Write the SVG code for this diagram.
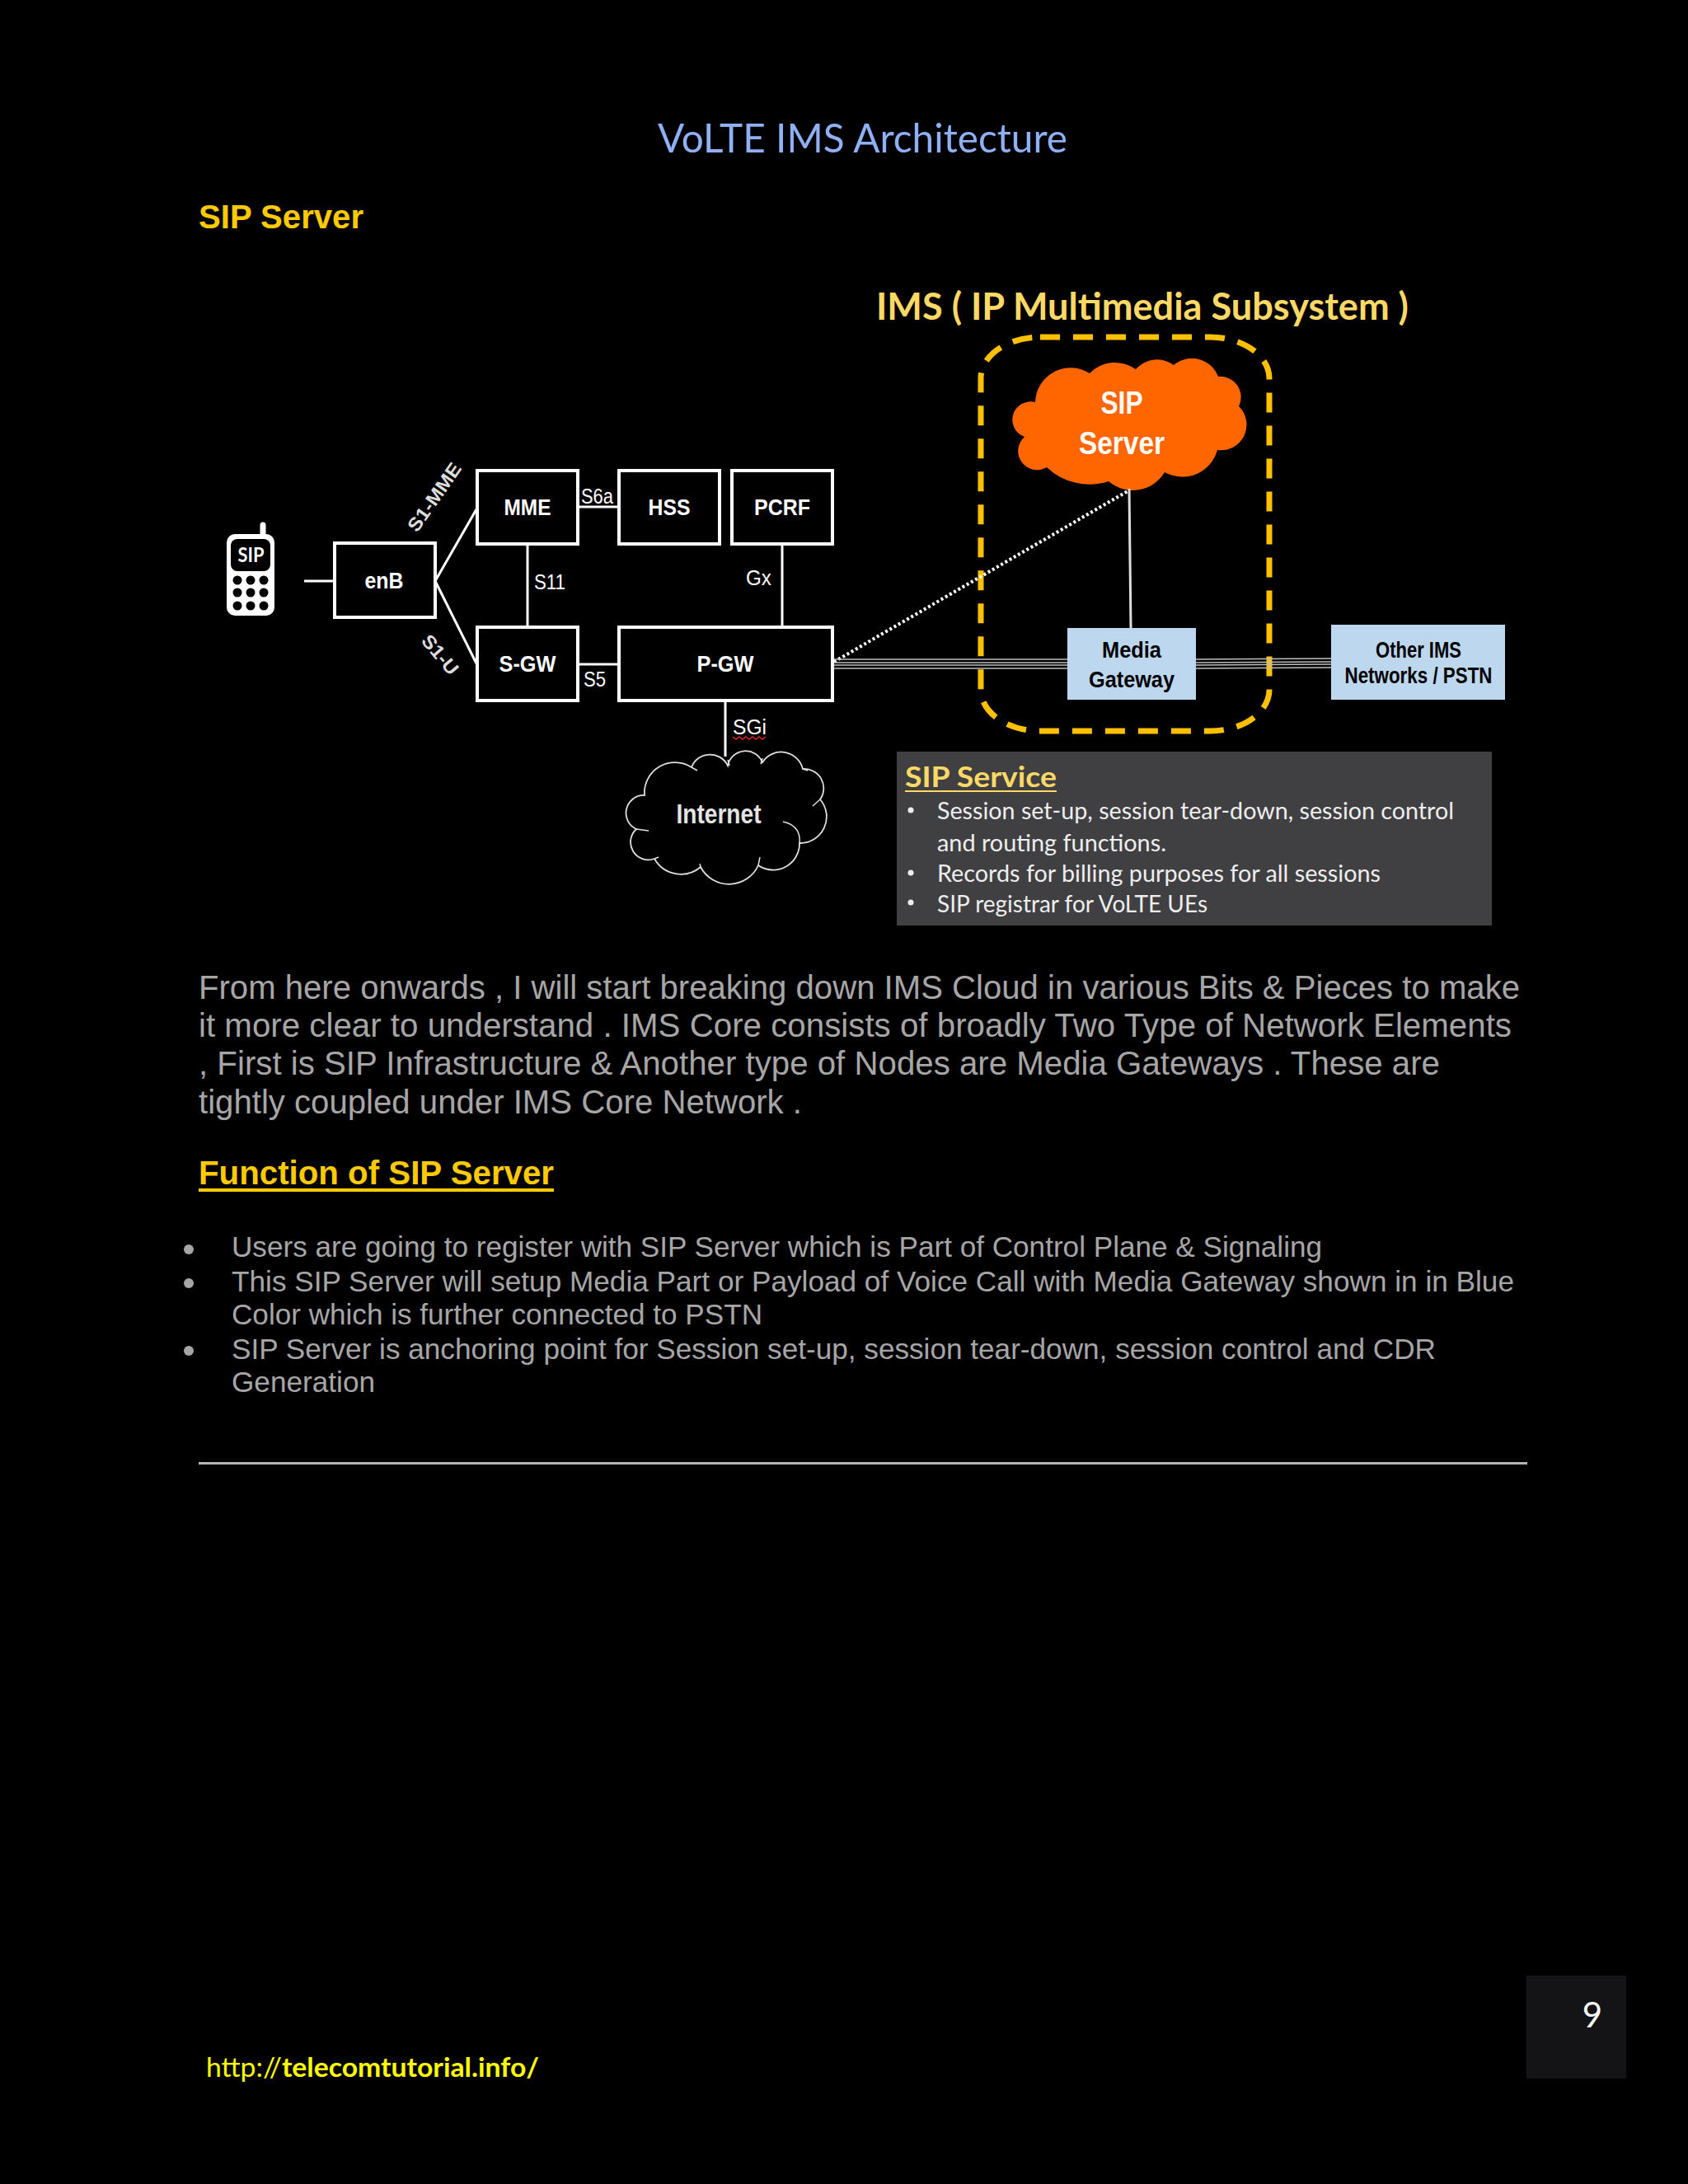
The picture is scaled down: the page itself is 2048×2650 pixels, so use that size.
<svg xmlns="http://www.w3.org/2000/svg" width="2048" height="2650" viewBox="0 0 2048 2650">
<style>
text{font-family:"Liberation Sans",Arial,sans-serif}
.l{font-family:Lato,"Noto Sans",sans-serif}
.box{fill:#000;stroke:#fff;stroke-width:4}
.n{font-size:28px;font-weight:700;fill:#fff;text-anchor:middle}
.i{font-size:25px;fill:#fff}
.c{stroke:#fff;stroke-width:3;fill:none}
.t{stroke:#bdbdbd;stroke-width:1.5;fill:none}
.body{font-size:40px;fill:#a6a6a6}
.li{font-size:35px;fill:#a6a6a6}
.s{font-size:29px;fill:#eee}
.d{font-size:27px;font-weight:700;fill:#000;text-anchor:middle}
.sq{stroke:#d22;stroke-width:1.5;fill:none}
</style>
<rect width="2048" height="2650" fill="#000"/>
<text class="l" x="798" y="185" font-size="49" fill="#8fb0f5" textLength="497" lengthAdjust="spacingAndGlyphs">VoLTE IMS Architecture</text>
<text x="241" y="277" font-size="40" font-weight="700" fill="#ffcb00" textLength="200" lengthAdjust="spacingAndGlyphs">SIP Server</text>
<text class="l" x="1063" y="388" font-size="46" font-weight="700" fill="#ffd966" textLength="646" lengthAdjust="spacingAndGlyphs">IMS ( IP Multimedia Subsystem )</text>

<g id="IMS"><rect x="1190" y="409" width="350" height="478" rx="72" ry="50" fill="none" stroke="#ffc000" stroke-width="7" stroke-dasharray="24 16"/></g>

<g id="SIP-Server">
<path d="M1256 488A43 43 0 0 1 1322 453A43 43 0 0 1 1378 448A34 34 0 0 1 1424 443A34 34 0 0 1 1478 457A25 25 0 0 1 1503 493A31 31 0 0 1 1477 546A44 44 0 0 1 1413 573A45 45 0 0 1 1345 584A75 75 0 0 1 1270 567A23 23 0 0 1 1243 530A22 22 0 0 1 1256 488Z" fill="#ff6600"/>
<text x="1361" y="502" font-size="38" font-weight="700" fill="#fff" text-anchor="middle" textLength="51" lengthAdjust="spacingAndGlyphs">SIP</text>
<text x="1361" y="551" font-size="38" font-weight="700" fill="#fff" text-anchor="middle" textLength="104" lengthAdjust="spacingAndGlyphs">Server</text>
</g>

<g id="connectors">
<path class="c" d="M369 705H404M528 705L578 618M528 705L578 805M701 615H750M640 660V760M949 660V760M701 806H750M880 850V918"/>
<path d="M1012 803L1368 596" stroke="#fff" stroke-width="4" stroke-dasharray="3 3" fill="none"/>
<path d="M1370 593L1372 762" stroke="#ddd" stroke-width="3" fill="none"/>
<path class="t" d="M1011 800H1295M1011 804H1295M1011 807H1295M1011 811H1295M1451 800L1615 799M1451 804L1615 803M1451 807L1615 806M1451 811L1615 810"/>
<path class="sq" d="M443 718l4 3l4-3l4 3l4-3l4 3l4-3l4 3l4-3l4 3l4-3l4 3l4-3"/>
<path class="sq" d="M889 894l4 3l4-3l4 3l4-3l4 3l4-3l4 3l4-3l4 3l4-3"/>
</g>

<g id="phone">
<rect x="275" y="648" width="58" height="99" rx="10" fill="#fff"/>
<path d="M319 637V650" stroke="#fff" stroke-width="7" stroke-linecap="round"/>
<rect x="280" y="654" width="48" height="39" rx="8" fill="#000"/>
<text class="l" x="304.500" y="682" font-size="24" font-weight="700" fill="#fff" text-anchor="middle" textLength="32" lengthAdjust="spacingAndGlyphs">SIP</text>
<g fill="#000"><circle cx="288" cy="704" r="5.500"/><circle cx="304" cy="704" r="5.500"/><circle cx="320" cy="704" r="5.500"/><circle cx="288" cy="719" r="5.500"/><circle cx="304" cy="719" r="5.500"/><circle cx="320" cy="719" r="5.500"/><circle cx="288" cy="735" r="5.500"/><circle cx="304" cy="735" r="5.500"/><circle cx="320" cy="735" r="5.500"/></g>
</g>
<g id="enB"><rect class="box" x="406" y="659" width="122" height="90"/><text class="n" x="466" y="714" textLength="47" lengthAdjust="spacingAndGlyphs">enB</text></g>
<g id="MME"><rect class="box" x="579" y="571" width="122" height="89"/><text class="n" x="640" y="625" textLength="57" lengthAdjust="spacingAndGlyphs">MME</text></g>
<g id="HSS"><rect class="box" x="751" y="571" width="122" height="89"/><text class="n" x="812" y="625" textLength="51" lengthAdjust="spacingAndGlyphs">HSS</text></g>
<g id="PCRF"><rect class="box" x="888" y="571" width="122" height="89"/><text class="n" x="949" y="625" textLength="68" lengthAdjust="spacingAndGlyphs">PCRF</text></g>
<g id="S-GW"><rect class="box" x="579" y="761" width="122" height="89"/><text class="n" x="640" y="815" textLength="69" lengthAdjust="spacingAndGlyphs">S-GW</text></g>
<g id="P-GW"><rect class="box" x="751" y="761" width="259" height="89"/><text class="n" x="880" y="815" textLength="69" lengthAdjust="spacingAndGlyphs">P-GW</text></g>

<g id="labels">
<text class="i" x="705" y="611" textLength="39" lengthAdjust="spacingAndGlyphs">S6a</text>
<text class="i" x="648" y="715" textLength="38" lengthAdjust="spacingAndGlyphs">S11</text>
<text class="i" x="905" y="710" textLength="31" lengthAdjust="spacingAndGlyphs">Gx</text>
<text class="i" x="708" y="833" textLength="27" lengthAdjust="spacingAndGlyphs">S5</text>
<text class="i" x="889" y="891" textLength="41" lengthAdjust="spacingAndGlyphs">SGi</text>
<text transform="translate(506 647) rotate(-55)" font-size="23" font-weight="700" fill="#ddd" textLength="96" lengthAdjust="spacingAndGlyphs">S1-MME</text>
<text transform="translate(510 778) rotate(50)" font-size="23" font-weight="700" fill="#ddd" textLength="56" lengthAdjust="spacingAndGlyphs">S1-U</text>
</g>

<g id="Internet">
<path d="M782 965A37 37 0 0 1 839 931A24 24 0 0 1 883 929A22 22 0 0 1 925 925A27 27 0 0 1 974 933A23.500 23.500 0 0 1 995 970A32 32 0 0 1 970 1023A32 32 0 0 1 920 1050A39 39 0 0 1 850 1052A37 37 0 0 1 794 1042A21.500 21.500 0 0 1 772 1006A21.500 21.500 0 0 1 782 965Z" fill="none" stroke="#e0e0e0" stroke-width="1.800"/>
<path d="M839 931L846 935M883 922L885 929M925 920L923 927M974 933L980 935M995 970L986 978M970 1023Q972 1002 950 997M920 1050L922 1040M850 1052L849 1048M794 1042L799 1040M772 1006L787 1008" fill="none" stroke="#e0e0e0" stroke-width="1.500"/>
<text class="n" x="872" y="999" fill="#ddd" style="font-size:34px;fill:#e4e4e4" textLength="103" lengthAdjust="spacingAndGlyphs">Internet</text>
</g>

<g id="Media-Gateway"><rect x="1295" y="762" width="156" height="87" fill="#bdd7ee"/>
<text class="d" x="1373" y="798" textLength="72" lengthAdjust="spacingAndGlyphs">Media</text>
<text class="d" x="1373" y="834" textLength="104" lengthAdjust="spacingAndGlyphs">Gateway</text></g>
<g id="Other-IMS"><rect x="1615" y="758" width="211" height="91" fill="#bdd7ee"/>
<text class="d" x="1721" y="798" textLength="104" lengthAdjust="spacingAndGlyphs">Other IMS</text>
<text class="d" x="1721" y="829" textLength="179" lengthAdjust="spacingAndGlyphs">Networks / PSTN</text></g>

<g id="SIP-Service">
<rect x="1088" y="912" width="722" height="211" fill="#404042"/>
<text class="l" x="1098" y="955" font-size="34" font-weight="700" fill="#ffd966" textLength="184" lengthAdjust="spacingAndGlyphs">SIP Service</text>
<rect x="1098" y="959" width="184" height="2" fill="#ffd966"/>
<g fill="#eee"><circle cx="1105" cy="983" r="3.500"/><circle cx="1105" cy="1059" r="3.500"/><circle cx="1105" cy="1095" r="3.500"/></g>
<text class="l s" x="1137" y="994" textLength="627" lengthAdjust="spacingAndGlyphs">Session set-up, session tear-down, session control</text>
<text class="l s" x="1137" y="1033" textLength="278" lengthAdjust="spacingAndGlyphs">and routing functions.</text>
<text class="l s" x="1137" y="1070" textLength="538" lengthAdjust="spacingAndGlyphs">Records for billing purposes for all sessions</text>
<text class="l s" x="1137" y="1107" textLength="328" lengthAdjust="spacingAndGlyphs">SIP registrar for VoLTE UEs</text>
</g>

<text class="body" x="241" y="1212" textLength="1603" lengthAdjust="spacingAndGlyphs">From here onwards , I will start breaking down IMS Cloud in various Bits &amp; Pieces to make</text>
<text class="body" x="241" y="1258" textLength="1593" lengthAdjust="spacingAndGlyphs">it more clear to understand . IMS Core consists of broadly Two Type of Network Elements</text>
<text class="body" x="241" y="1304" textLength="1506" lengthAdjust="spacingAndGlyphs">, First is SIP Infrastructure &amp; Another type of Nodes are Media Gateways . These are</text>
<text class="body" x="241" y="1351" textLength="732" lengthAdjust="spacingAndGlyphs">tightly coupled under IMS Core Network .</text>
<text x="241" y="1437" font-size="40" font-weight="700" fill="#ffcb00" textLength="431" lengthAdjust="spacingAndGlyphs">Function of SIP Server</text>
<rect x="241" y="1442" width="431" height="4" fill="#ffcb00"/>
<g fill="#a6a6a6"><circle cx="229" cy="1516" r="6"/><circle cx="229" cy="1557" r="6"/><circle cx="229" cy="1639" r="6"/></g>
<text class="li" x="281" y="1525" textLength="1323" lengthAdjust="spacingAndGlyphs">Users are going to register with SIP Server which is Part of Control Plane &amp; Signaling</text>
<text class="li" x="281" y="1567" textLength="1556" lengthAdjust="spacingAndGlyphs">This SIP Server will setup Media Part or Payload of Voice Call with Media Gateway shown in in Blue</text>
<text class="li" x="281" y="1607" textLength="644" lengthAdjust="spacingAndGlyphs">Color which is further connected to PSTN</text>
<text class="li" x="281" y="1649" textLength="1461" lengthAdjust="spacingAndGlyphs">SIP Server is anchoring point for Session set-up, session tear-down, session control and CDR</text>
<text class="li" x="281" y="1689" textLength="174" lengthAdjust="spacingAndGlyphs">Generation</text>
<rect x="241" y="1774" width="1612" height="3" fill="#b5b5b5"/>

<rect x="1852" y="2397" width="121" height="125" fill="#141416"/>
<text class="l" x="1932" y="2460" font-size="42" fill="#fff" text-anchor="middle">9</text>
<text class="l" x="250" y="2520" font-size="33" fill="#ffff00" textLength="404" lengthAdjust="spacingAndGlyphs">http://<tspan font-weight="700">telecomtutorial.info/</tspan></text>
</svg>
